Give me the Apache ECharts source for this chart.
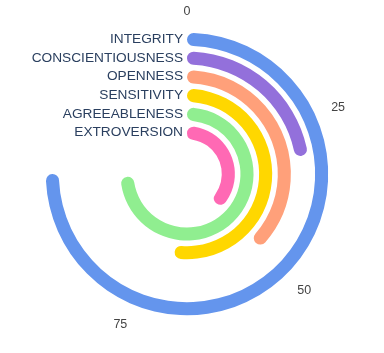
<!DOCTYPE html>
<html>
<head>
<meta charset="utf-8">
<script src="https://cdn.jsdelivr.net/npm/echarts@6/dist/echarts.min.js"></script>
<style>
  html, body { margin: 0; padding: 0; background: #fff; }
  #chart { width: 384px; height: 353px; }
</style>
</head>
<body>
<div id="chart"></div>
<script>
// categories, inner ring first
const traits = ['EXTROVERSION', 'AGREEABLENESS', 'SENSITIVITY', 'OPENNESS', 'CONSCIENTIOUSNESS', 'INTEGRITY'];
const scores = [50, 99, 70, 50, 30, 100];
const angleTicks = [0, 25, 50, 75];
const barColors = ['#FF69B4', '#90EE90', '#FFD700', '#FFA07A', '#9370DB', '#6495ED'];

const myChart = echarts.init(document.getElementById('chart'));

const options = {
    polar: {
        center: ['48.7%', '49.3%'],
        radius: [32, 144]
    },
    angleAxis: {
        type: 'value',
        startAngle: 90,
        clockwise: true,
        min: 0,
        max: 400 / 3,   // the largest score fills three quarters of the circle
        interval: 25,
        axisLine: { show: false },
        axisTick: { show: false },
        splitLine: { show: false },
        axisLabel: {
            margin: 12,
            color: '#444',
            fontSize: 12.5,
            fontFamily: 'Liberation Sans, Arial, sans-serif',
            formatter: (v) => angleTicks.includes(v) ? String(v) : ''
        }
    },
    radiusAxis: {
        type: 'category',
        data: traits,
        axisLine: { show: false },
        axisTick: { show: false },
        splitLine: { show: false },
        axisLabel: {
            interval: 0,
            hideOverlap: false,
            margin: 4,
            color: '#2a3f5f',
            fontSize: 13.7,
            fontFamily: 'Liberation Sans, Arial, sans-serif',
            padding: [0, 0, 6, 0]
        }
    },
    series: [
        {
            type: 'bar',
            coordinateSystem: 'polar',
            data: scores,
            barWidth: '70%',
            itemStyle: {
                color: (p) => barColors[p.dataIndex],
                borderRadius: 10
            },
            silent: true
        }
    ],
    animation: false
};

myChart.setOption(options);
</script>
</body>
</html>
